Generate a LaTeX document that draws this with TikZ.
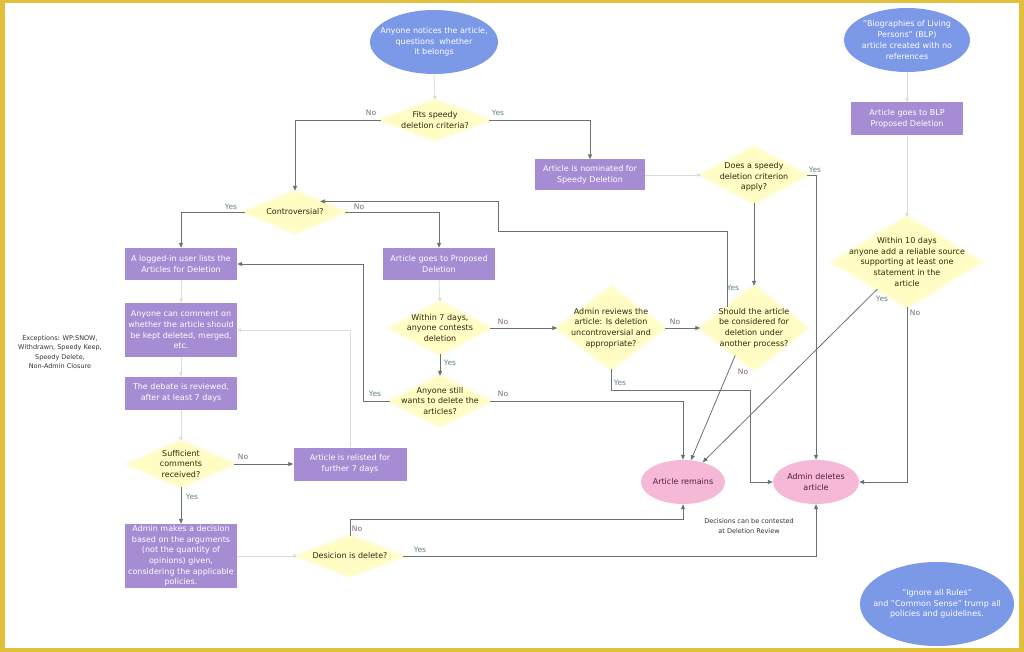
\documentclass[tikz,border=0pt]{standalone}
\usepackage{fontspec}
\setmainfont{DejaVu Sans}
\usetikzlibrary{shapes.geometric,arrows.meta,calc}
\definecolor{bpurple}{RGB}{166,141,211}
\definecolor{eblue}{RGB}{124,153,232}
\definecolor{epink}{RGB}{245,184,214}
\definecolor{pinktext}{RGB}{85,30,65}
\definecolor{diaY}{RGB}{255,252,196}
\definecolor{diaGlow}{RGB}{255,254,228}
\definecolor{diatext}{RGB}{50,42,12}
\definecolor{lineC}{RGB}{105,115,115}
\definecolor{faintC}{RGB}{218,220,226}
\definecolor{yesC}{RGB}{95,135,130}
\definecolor{noC}{RGB}{125,105,115}
\definecolor{frameY}{RGB}{226,192,60}
\begin{document}
\begin{tikzpicture}[x=1pt,y=-1pt,
  basefont/.style={font=\fontsize{8}{10.7}\selectfont},
  pbox/.style={basefont,rectangle,fill=bpurple,text=white,align=center,inner sep=0pt},
  sell/.style={ellipse,fill=eblue,inner sep=0pt},
  pell/.style={ellipse,fill=epink,inner sep=0pt},
  stext/.style={basefont,text=white,align=center,inner sep=0pt},
  ptext/.style={basefont,text=pinktext,align=center,inner sep=0pt},
  dia/.style={diamond,fill=diaY,inner sep=0pt,preaction={draw=diaGlow,line width=5pt}},
  dtext/.style={basefont,text=diatext,align=center,inner sep=0pt},
  conn/.style={draw=lineC,line width=0.8pt,-{Triangle[length=5pt,width=4pt]}},
  faint/.style={draw=faintC,line width=0.8pt,-{Triangle[length=4pt,width=3.5pt]}},
  ylab/.style={font=\fontsize{7.5}{9}\selectfont,text=yesC,inner sep=0pt},
  nlab/.style={font=\fontsize{7.5}{9}\selectfont,text=noC,inner sep=0pt},
  note/.style={font=\fontsize{6.5}{9.3}\selectfont,text=black!80,align=center,inner sep=0pt}
]
\useasboundingbox (0,0) rectangle (1024,652);
\fill[white] (0,0) rectangle (1024,652);

% nodes
\node[sell,minimum width=128pt,minimum height=64pt] (start) at (434,42) {};
\node[stext] (startt) at (start) {Anyone notices the article,\\questions\ \ whether\\it belongs};
\node[dia,minimum width=107pt,minimum height=40pt] (d1) at (435,120) {};
\node[dtext] (d1t) at (d1) {Fits speedy\\deletion criteria?};
\node[pbox,minimum width=110pt,minimum height=31pt] (nom) at (590,175) {Article is nominated for\\Speedy Deletion};
\node[dia,minimum width=105pt,minimum height=56pt] (d2) at (754,175) {};
\node[dtext] (d2t) at (754,177) {Does a speedy\\deletion criterion\\apply?};
\node[dia,minimum width=100pt,minimum height=42pt] (contro) at (295,212) {};
\node[dtext] (controt) at (contro) {Controversial?};
\node[pbox,minimum width=112pt,minimum height=32pt] (afd) at (181,264) {A logged-in user lists the\\Articles for Deletion};
\node[pbox,minimum width=112pt,minimum height=32pt] (propd) at (439,264) {Article goes to Proposed\\Deletion};
\node[pbox,minimum width=112pt,minimum height=54pt] (comment) at (181,330) {Anyone can comment on\\whether the article should\\be kept deleted, merged,\\etc.};
\node[pbox,minimum width=112pt,minimum height=33pt] (review) at (181,393) {The debate is reviewed,\\after at least 7 days};
\node[dia,minimum width=105pt,minimum height=46pt] (suff) at (181,464) {};
\node[dtext] (sufft) at (suff) {Sufficient\\comments\\received?};
\node[pbox,minimum width=113pt,minimum height=33pt] (relist) at (350,464) {Article is relisted for\\further 7 days};
\node[pbox,minimum width=112pt,minimum height=64pt] (admdec) at (181,556) {Admin makes a decision\\based on the arguments\\(not the quantity of\\opinions) given,\\considering the applicable\\policies.};
\node[dia,minimum width=105pt,minimum height=40pt] (decis) at (350,556) {};
\node[dtext] (decist) at (decis) {Desicion is delete?};
\node[dia,minimum width=100pt,minimum height=52pt] (w7) at (440,328) {};
\node[dtext] (w7t) at (w7) {Within 7 days,\\anyone contests\\deletion};
\node[dia,minimum width=100pt,minimum height=50pt] (still) at (440,401) {};
\node[dtext] (stillt) at (still) {Anyone still\\wants to delete the\\articles?};
\node[dia,minimum width=107pt,minimum height=82pt] (adrev) at (611,328) {};
\node[dtext] (adrevt) at (adrev) {Admin reviews the\\article: Is deletion\\uncontroversial and\\appropriate?};
\node[dia,minimum width=107pt,minimum height=84pt] (should) at (754,328) {};
\node[dtext] (shouldt) at (should) {Should the article\\be considered for\\deletion under\\another process?};
\node[sell,minimum width=126pt,minimum height=64pt] (blp) at (907,40) {};
\node[stext] (blpt) at (blp) {"Biographies of Living\\Persons" (BLP)\\article created with no\\references};
\node[pbox,minimum width=112pt,minimum height=33pt] (blpbox) at (907,119) {Article goes to BLP\\Proposed Deletion};
\node[dia,minimum width=148pt,minimum height=90pt] (blpd) at (907,262) {};
\node[dtext] (blpdt) at (blpd) {Within 10 days\\anyone add a reliable source\\supporting at least one\\statement in the\\article};
\node[pell,minimum width=84pt,minimum height=44pt] (remain) at (683,482) {};
\node[ptext] (remaint) at (remain) {Article remains};
\node[pell,minimum width=86pt,minimum height=44pt] (del) at (816,482) {};
\node[ptext] (delt) at (del) {Admin deletes\\article};
\node[sell,minimum width=154pt,minimum height=84pt] (ignore) at (937,604) {};
\node[stext] (ignoret) at (ignore) {"Ignore all Rules"\\and "Common Sense" trump all\\policies and guidelines.};
\node[note] (exc) at (60,352) {Exceptions: WP:SNOW,\\Withdrawn, Speedy Keep,\\Speedy Delete,\\Non-Admin Closure};
\node[note] (decnote) at (749,526) {Decisions can be contested\\at Deletion Review};

% helper coordinates
\coordinate (yb1) at (498,231);
\coordinate (yc) at (363,264);
\coordinate (ay) at (750,390);
\coordinate (nb) at (350,519);

% connectors
\draw[faint] (start.south) -- (d1.north);
\draw[conn] (d1.west) -| (contro.north);
\draw[conn] (d1.east) -| (nom.north);
\draw[faint] (nom.east) -- (d2.west);
\draw[conn] (d2.east) -| (del.north);
\draw[conn] (d2.south) -- (should.north);
\draw[conn] (should.north west) |- (yb1) |- (contro.north east);
\draw[conn] (contro.east) -| (propd.north);
\draw[conn] (contro.west) -| (afd.north);
\draw[faint] (afd.south) -- (comment.north);
\draw[faint] (comment.south) -- (review.north);
\draw[faint] (review.south) -- (suff.north);
\draw[conn] (suff.east) -- (relist.west);
\draw[conn] (suff.south) -- (admdec.north);
\draw[faint] (relist.north) |- (comment.east);
\draw[faint] (admdec.east) -- (decis.west);
\draw[conn] (decis.north) -- (nb) -| (remain.south);
\draw[conn] (decis.east) -| (del.south);
\draw[faint] (propd.south) -- (w7.north);
\draw[conn] (w7.east) -- (adrev.west);
\draw[conn] (adrev.east) -- (should.west);
\draw[conn] (w7.south) -- (still.north);
\draw[conn] (still.west) -| (yc) -- (afd.east);
\draw[conn] (still.east) -| (remain.north);
\draw[conn] (adrev.south) |- (ay) |- (del.west);
\draw[conn] ($(should.south)!0.35!(should.west)$) -- (remain.70);
\draw[conn] ($(blpd.south)!0.4!(blpd.west)$) -- (remain.45);
\draw[conn] (blpd.south) |- (del.east);
\draw[faint] (blp.south) -- (blpbox.north);
\draw[faint] (blpbox.south) -- (blpd.north);

% labels
\node[nlab] (l1) at (371,113) {No};
\node[ylab] (l2) at (498,113) {Yes};
\node[ylab] (l3) at (231,207) {Yes};
\node[nlab] (l4) at (359,207) {No};
\node[ylab] (l5) at (815,170) {Yes};
\node[ylab] (l6) at (733,288) {Yes};
\node[nlab] (l7) at (503,322) {No};
\node[nlab] (l8) at (675,322) {No};
\node[ylab] (l9) at (450,363) {Yes};
\node[ylab] (l10) at (375,394) {Yes};
\node[nlab] (l11) at (503,394) {No};
\node[ylab] (l12) at (620,383) {Yes};
\node[nlab] (l13) at (743,372) {No};
\node[ylab] (l14) at (882,299) {Yes};
\node[nlab] (l15) at (915,313) {No};
\node[nlab] (l16) at (243,457) {No};
\node[ylab] (l17) at (192,497) {Yes};
\node[nlab] (l18) at (357,529) {No};
\node[ylab] (l19) at (420,550) {Yes};

% frame
\fill[frameY] (0,0) rectangle (1024,3);
\fill[frameY] (0,0) rectangle (5,652);
\fill[frameY] (1019,0) rectangle (1024,652);
\fill[frameY] (0,648) rectangle (1024,652);
\end{tikzpicture}
\end{document}
